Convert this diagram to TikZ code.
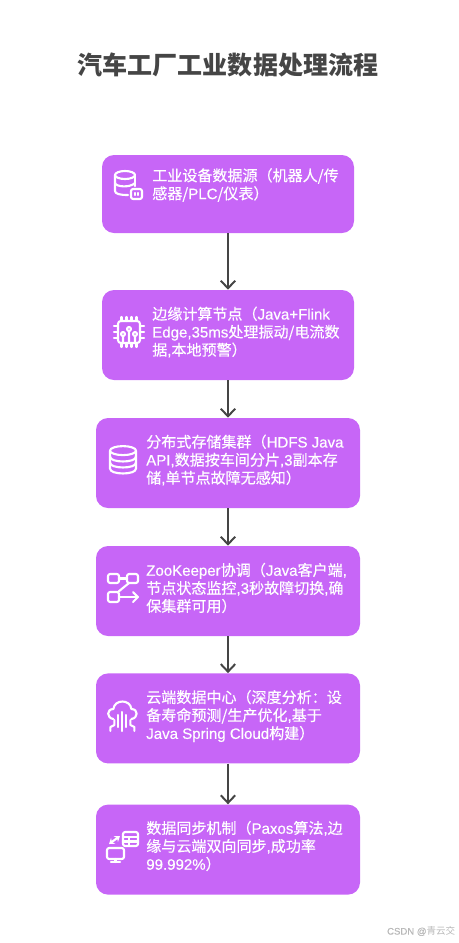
\documentclass[tikz,border=0pt]{standalone}
\usepackage{fontspec}
\setmainfont{Noto Sans CJK SC}
\newfontfamily\cjkmed[FakeBold=0.4]{Noto Sans CJK SC}
\newfontfamily\latmed[FakeBold=0.4]{Liberation Sans}
\newcommand{\la}[1]{{\latmed #1}}
\usetikzlibrary{arrows.meta,positioning,calc}
\definecolor{stepfill}{HTML}{C766F7}
\definecolor{inkgray}{HTML}{454545}

\tikzset{
  icon/.style={x=0.025cm, y=-0.025cm, draw=white, line width=1.5pt, line cap=round, line join=round},
  pics/icondbbot/.style={code={
    \draw[icon] (0,-10) ellipse [x radius=10, y radius=4];
    \draw[icon] (-10,-10) -- (-10,6) .. controls (-10,9) and (-5,10) .. (3,10);
    \draw[icon] (-10,-2) .. controls (-9,2) and (5,3) .. (10,-2);
    \draw[icon] (10,-10) -- (10,1);
    \draw[icon, rounded corners=1.5pt] (6,4) rectangle (17,14);
    \draw[icon] (10,8) -- (10,10) (13,8) -- (13,10);
  }},
  pics/iconchip/.style={code={
    \draw[icon, rounded corners=2pt] (-11,-11) rectangle (11,11);
    \foreach \px in {-7.5,-2.5,2.5,7.5} {
      \draw[icon] (\px,-15) -- (\px,-11) (\px,11) -- (\px,15);
    }
    \foreach \py in {-6,0,6} {
      \draw[icon] (-15,\py) -- (-11,\py) (11,\py) -- (15,\py);
    }
    \draw[icon] (0,-3) circle (2) (0,-1) -- (0,11);
    \draw[icon] (-6,2) circle (2) (-6,4) -- (-6,11);
    \draw[icon] (6,2) circle (2) (6,4) -- (6,11);
  }},
  pics/icondb/.style={code={
    \draw[icon] (0,-9) ellipse [x radius=13, y radius=4.5];
    \draw[icon] (-13,-9) -- (-13,9) .. controls (-13,15.5) and (13,15.5) .. (13,9) -- (13,-9);
    \draw[icon] (-13,-3) .. controls (-13,3.5) and (13,3.5) .. (13,-3);
    \draw[icon] (-13,3) .. controls (-13,9.5) and (13,9.5) .. (13,3);
  }},
  pics/iconflow/.style={code={
    \draw[icon, rounded corners=1.5pt] (-15,-14) rectangle (-4,-5);
    \draw[icon, rounded corners=1.5pt] (4,-14) rectangle (15,-5);
    \draw[icon, rounded corners=1.5pt] (-15,4) rectangle (-4,14);
    \draw[icon] (-4,-9.5) -- (4,-9.5);
    \draw[icon] (6,-5) -- (-5,4);
    \draw[icon] (-4,9) -- (15,9);
    \draw[icon] (10,4) -- (15,9) -- (10,14);
  }},
  pics/iconcloud/.style={code={
    \draw[icon] (-9,3) .. controls (-16,2) and (-16,-7) .. (-9,-7)
      .. controls (-8,-17) and (8,-17) .. (9,-7)
      .. controls (16,-7) and (16,2) .. (9,3);
    \draw[icon] (-4,-1) -- (-4,11) (0,-4) -- (0,15) (4,-1) -- (4,11);
    \draw[icon] (-8,4) -- (-8,9) -- (-12,11) -- (-12,15);
    \draw[icon] (8,4) -- (8,9) -- (12,11) -- (12,15);
  }},
  pics/iconsync/.style={code={
    \draw[icon, rounded corners=1.5pt] (1,-15) rectangle (16,-1);
    \draw[icon] (1,-10) -- (16,-10) (1,-5.5) -- (16,-5.5) (7,-10) -- (7,-1);
    \draw[icon, rounded corners=1.5pt] (-15,1) rectangle (2,12);
    \draw[icon] (-6.5,12) -- (-6.5,15) (-11,15) -- (-2,15);
    \draw[icon, {Stealth[length=1.3mm,width=1.8mm]}-{Stealth[length=1.3mm,width=1.8mm]}] (-13,-3) -- (-2,-11);
  }}
}

\begin{document}
\begin{tikzpicture}[
  smallbox/.style={fill=stepfill, rounded corners=0.3cm, minimum width=6.3cm, inner sep=0pt},
  widebox/.style={smallbox, minimum width=6.6cm, minimum height=2.25cm},
  label/.style={anchor=west, align=left, text=white, inner sep=0pt, font=\fontsize{10.7pt}{12.8pt}\cjkmed},
  arrow/.style={-{Straight Barb[length=1.9mm,width=3.6mm]}, line width=1.4pt, draw=inkgray}
]
\useasboundingbox (0,0) rectangle (11.45,-23.575);

\node[text=inkgray, font=\fontsize{17.8pt}{20pt}\selectfont\bfseries] (title) at (5.7,-1.62) {汽车工厂工业数据处理流程};

\node[smallbox, minimum height=1.95cm] (src) at (5.7,-4.85) {};
\node[smallbox, minimum height=2.25cm] (edge) at (5.7,-8.375) {};
\node[widebox] (hdfs) at (5.7,-11.575) {};
\node[widebox] (zk) at (5.7,-14.775) {};
\node[widebox] (cloud) at (5.7,-17.96) {};
\node[widebox] (sync) at (5.7,-21.24) {};

\node[label] (srctxt) at (3.8,-4.625) {工业设备数据源（机器人/传\\感器/\la{PLC}/仪表）};
\node[label] (edgetxt) at (3.8,-8.3) {边缘计算节点（\la{Java+Flink}\\\la{Edge,35ms}处理振动/电流数\\据\la{,}本地预警）};
\node[label] (hdfstxt) at (3.65,-11.5) {分布式存储集群（\la{HDFS Java}\\\la{API,}数据按车间分片\la{,3}副本存\\储\la{,}单节点故障无感知）};
\node[label] (zktxt) at (3.65,-14.7) {\la{ZooKeeper}协调（\la{Java}客户端\la{,}\\节点状态监控\la{,3}秒故障切换\la{,}确\\保集群可用）};
\node[label] (cloudtxt) at (3.65,-17.9) {云端数据中心（深度分析：设\\备寿命预测/生产优化\la{,}基于\\\la{Java Spring Cloud}构建）};
\node[label] (synctxt) at (3.65,-21.15) {数据同步机制（\la{Paxos}算法\la{,}边\\缘与云端双向同步\la{,}成功率\\\la{99.992\%}）};

\pic at (3.125,-4.625) {icondbbot};
\pic at (3.225,-8.3) {iconchip};
\pic at (3.075,-11.49) {icondb};
\pic at (3.075,-14.7) {iconflow};
\pic at (3.06,-17.9) {iconcloud};
\pic at (3.05,-21.175) {iconsync};

\node[text=black!28, font=\fontsize{6.8pt}{8pt}\selectfont] (mark) at (10.53,-23.28) {\la{CSDN @}青云交};

\draw[arrow] (src) -- (edge);
\draw[arrow] (edge) -- (hdfs);
\draw[arrow] (hdfs) -- (zk);
\draw[arrow] (zk) -- (cloud);
\draw[arrow] (cloud) -- (sync);

\end{tikzpicture}
\end{document}
